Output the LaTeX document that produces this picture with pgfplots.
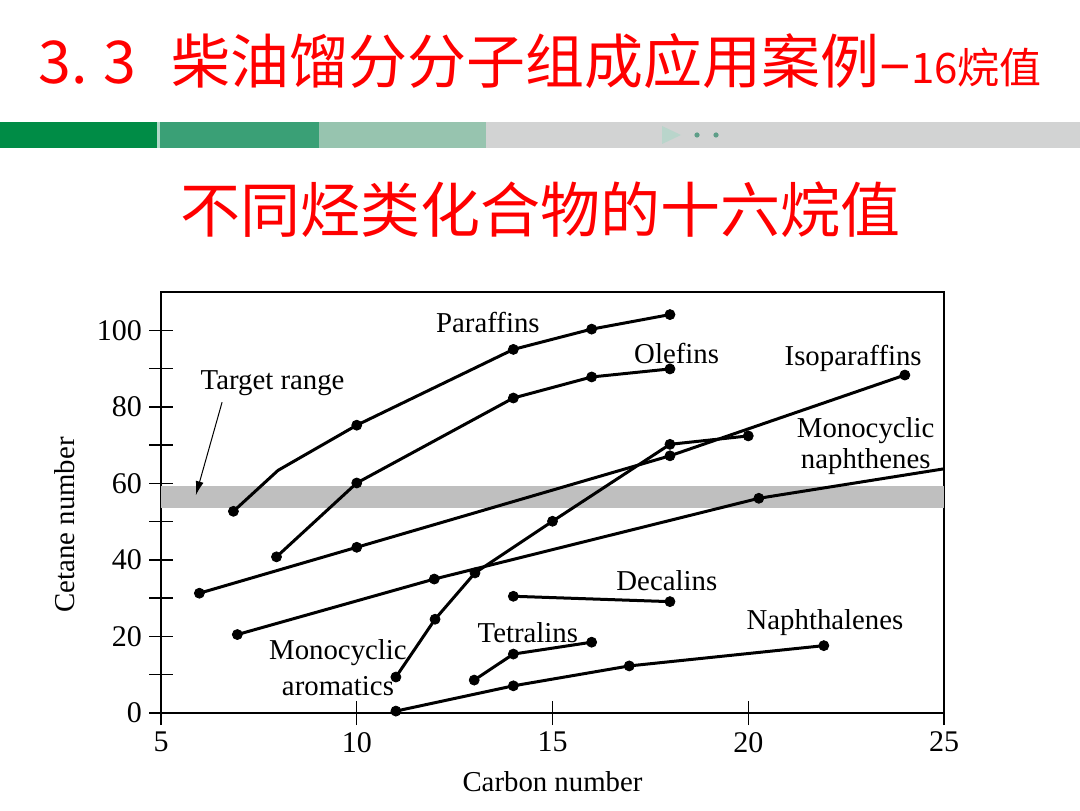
\documentclass[border=0pt]{standalone}
\usepackage{pgfplots}
\pgfplotsset{compat=1.18}
\usetikzlibrary{arrows.meta}
\usepackage{fontspec}
\setmainfont{Liberation Serif}
\newfontfamily\cjk{Noto Sans CJK SC}

\definecolor{titlered}{RGB}{255,0,0}
\definecolor{barA}{RGB}{0,140,70}
\definecolor{barB}{RGB}{58,160,118}
\definecolor{barC}{RGB}{151,196,175}
\definecolor{barD}{RGB}{210,211,211}
\definecolor{arrowc}{RGB}{185,213,203}
\definecolor{dotc}{RGB}{94,158,136}

\newcommand{\lbl}{\fontsize{14.4}{16}\selectfont}
\pgfplotsset{curve/.style={black, solid, line width=1.5pt, mark=*, mark size=2.5pt,
      mark options={solid, fill=black, draw=black, line width=0.4pt}}}

\begin{document}
\begin{tikzpicture}
\useasboundingbox (0,0) rectangle (540pt,405pt);

% slide header, in pixel units of the 1080x810 page
\begin{scope}[x=0.5pt,y=-0.5pt,yshift=405pt]
  \fill[barD] (0,122) rectangle (1080,148);
  \fill[barA] (0,122) rectangle (157,148);
  \fill[white!60!barB] (157,122) rectangle (160,148);
  \fill[barB] (160,122) rectangle (319,148);
  \fill[barC] (319,122) rectangle (486,148);
  \fill[arrowc] (662,126) -- (681,135) -- (662,144) -- cycle;
  \fill[dotc] (697,135) circle[radius=1.3pt];
  \fill[dotc] (716,135) circle[radius=1.3pt];
  \node[text=titlered, anchor=base, inner sep=0pt] at (540,84)
    {\cjk\fontsize{29.5}{31}\selectfont 3.\hspace{0.27em}3\hspace{0.6em}柴油馏分分子组成应用案例–{\fontsize{21}{22}\selectfont 16烷值}};
  \node[text=titlered, anchor=base, inner sep=0pt] at (540,233)
    {\cjk\fontsize{30}{32}\selectfont 不同烃类化合物的十六烷值};
\end{scope}

\begin{axis}[
    at={(80.5pt,48.5pt)}, anchor=south west,
    width=391.5pt, height=210.5pt, scale only axis,
    xmin=5, xmax=25, ymin=0, ymax=110,
    xtick={5,10,...,25}, ytick={0,20,...,100}, minor ytick={10,30,...,90},
    xtick pos=bottom, ytick pos=left,
    tick align=center, major tick length=12pt, minor tick length=12pt,
    tick style={black, line width=0.7pt},
    axis line style={line width=0.7pt},
    ticklabel style={font=\fontsize{15}{16}\selectfont},
    /pgf/number format/assume math mode=true,
    xlabel={Carbon number}, ylabel={Cetane number},
    label style={font=\lbl},
    xlabel style={at={(axis description cs:0.5,-0.164)}, anchor=center},
    ylabel style={at={(axis description cs:-0.1226,0.447)}, anchor=center},
    clip=false,
]
% target range band
\addplot[draw=none, fill=black!25, mark=none] coordinates {(5,53.5) (25,53.5) (25,59.3) (5,59.3)} -- cycle;

% Paraffins
\addplot[curve, mark indices={1,3,4,5,6}] coordinates {(6.85,52.7) (7.99,63.4) (10,75.2) (14,95) (16,100.3) (18,104.1)};
% Olefins
\addplot[curve] coordinates {(7.95,40.8) (10,60.1) (14,82.3) (16,87.8) (18,89.9)};
% Isoparaffins
\addplot[curve] coordinates {(5.98,31.3) (10,43.3) (18,67.2) (24,88.3)};
% Monocyclic naphthenes
\addplot[curve, mark indices={1,2,3}] coordinates {(6.95,20.5) (11.98,35.0) (20.27,56.1) (25,63.8)};
% Monocyclic aromatics
\addplot[curve] coordinates {(11,9.4) (12,24.5) (13.02,36.6) (15,50.1) (18,70.2) (20,72.4)};
% Decalins
\addplot[curve] coordinates {(14,30.5) (18,29.1)};
% Tetralins
\addplot[curve] coordinates {(13,8.6) (14,15.4) (16,18.5)};
% Naphthalenes
\addplot[curve] coordinates {(11,0.5) (14,7.1) (16.96,12.3) (21.93,17.6)};

\draw[line width=0.5pt, -{Latex[length=7pt,width=4pt]}] (axis cs:6.56,81.2) -- (axis cs:5.89,56.9);

\node[anchor=base, font=\lbl] at (axis cs:7.85,84.6) {Target range};
\node[anchor=base, font=\lbl] at (axis cs:13.35,99.5) {Paraffins};
\node[anchor=base, font=\lbl] at (axis cs:18.17,91.4) {Olefins};
\node[anchor=base, font=\lbl] at (axis cs:22.68,90.9) {Isoparaffins};
\node[anchor=base, font=\lbl] at (axis cs:23.0,72.1) {Monocyclic};
\node[anchor=base, font=\lbl] at (axis cs:23.0,64.0) {naphthenes};
\node[anchor=base, font=\lbl] at (axis cs:9.52,14.1) {Monocyclic};
\node[anchor=base, font=\lbl] at (axis cs:9.52,4.7) {aromatics};
\node[anchor=base, font=\lbl] at (axis cs:14.37,18.3) {Tetralins};
\node[anchor=base, font=\lbl] at (axis cs:17.92,32.1) {Decalins};
\node[anchor=base, font=\lbl] at (axis cs:21.96,21.7) {Naphthalenes};
\end{axis}
\end{tikzpicture}
\end{document}
